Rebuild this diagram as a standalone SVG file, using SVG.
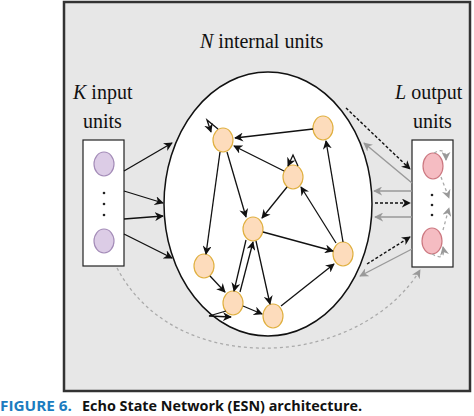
<svg xmlns="http://www.w3.org/2000/svg" width="474" height="416" viewBox="0 0 474 416">
<style>
.lbl{font-family:"Liberation Serif","Times New Roman",serif;font-size:20px;fill:#111}
.it{font-style:italic}
.cap{font-family:"Open Sans","Liberation Sans",Arial,sans-serif;font-weight:bold;font-size:14.5px}
.e{fill:none;stroke:#111;stroke-width:1.3;marker-end:url(#ab)}
.ed{fill:none;stroke:#111;stroke-width:1.4;stroke-dasharray:3,2;marker-end:url(#ab)}
.g{fill:none;stroke:#999;stroke-width:1.4;marker-end:url(#ag)}
.gd{fill:none;stroke:#aaa;stroke-width:1.3;stroke-dasharray:3,3;marker-end:url(#ag)}
.int{fill:#fddcbc;stroke:#e0b040;stroke-width:1.2}
.inp{fill:#dccce6;stroke:#a48cb8;stroke-width:1.2}
.out{fill:#f5bcc2;stroke:#cc7880;stroke-width:1.2}
.box{fill:#fff;stroke:#222;stroke-width:1.2}
.dot{fill:#222}
</style>
<defs>
<marker id="ab" viewBox="0 0 10 10" refX="9" refY="5" markerWidth="9" markerHeight="9" markerUnits="userSpaceOnUse" orient="auto"><path d="M0,0 L10,5 L0,10 L3,5 Z" fill="#111"/></marker>
<marker id="ag" viewBox="0 0 10 10" refX="9" refY="5" markerWidth="9" markerHeight="9" markerUnits="userSpaceOnUse" orient="auto"><path d="M0,0 L10,5 L0,10 L3,5 Z" fill="#999"/></marker>
</defs>
<rect width="474" height="416" fill="#fff"/>
<rect x="64" y="2" width="406" height="389" fill="#e7e7e7" stroke="#333" stroke-width="2.5"/>
<text class="lbl" x="200" y="48"><tspan class="it">N</tspan> internal units</text>
<text class="lbl" x="73" y="99"><tspan class="it">K</tspan> input</text>
<text class="lbl" x="83" y="128">units</text>
<text class="lbl" x="395" y="99"><tspan class="it">L</tspan> output</text>
<text class="lbl" x="413" y="128">units</text>
<g id="reservoir"><ellipse cx="268" cy="204" rx="104" ry="132" fill="#fff" stroke="#111" stroke-width="1.5"/></g>
<g id="input">
<rect class="box" x="83" y="140" width="41" height="126"/>
<ellipse class="inp" cx="104" cy="164" rx="10" ry="12"/>
<ellipse class="inp" cx="104" cy="241" rx="10" ry="12"/>
<circle class="dot" cx="104" cy="193" r="1.3"/><circle class="dot" cx="104" cy="204" r="1.3"/><circle class="dot" cx="104" cy="215" r="1.3"/>
</g>
<g id="output">
<rect class="box" x="412" y="140" width="41" height="127"/>
<ellipse class="out" cx="433" cy="166" rx="10" ry="13"/>
<ellipse class="out" cx="432" cy="241" rx="10" ry="13"/>
<circle class="dot" cx="432" cy="195" r="1.3"/><circle class="dot" cx="432" cy="205" r="1.3"/><circle class="dot" cx="432" cy="215" r="1.3"/>
</g>
<g id="nodes">
<g id="nA"><ellipse class="int" cx="223" cy="140" rx="10" ry="12"/></g>
<g id="nB"><ellipse class="int" cx="323" cy="128" rx="10" ry="12"/></g>
<g id="nC"><ellipse class="int" cx="293" cy="177" rx="10" ry="12"/></g>
<g id="nD"><ellipse class="int" cx="253" cy="229" rx="10" ry="12"/></g>
<g id="nE"><ellipse class="int" cx="204" cy="266" rx="10" ry="12"/></g>
<g id="nF"><ellipse class="int" cx="233" cy="303" rx="10" ry="12"/></g>
<g id="nG"><ellipse class="int" cx="273" cy="316" rx="10" ry="12"/></g>
<g id="nH"><ellipse class="int" cx="343" cy="254" rx="10" ry="12"/></g>
</g>
<g id="connectors">
<path class="e" d="M313,129 L235,138"/>
<path class="e" d="M218,129 L207,120 L211,132"/>
<path class="e" d="M284,171 L234,146"/>
<path class="e" d="M298,166 L293,155 L288,166"/>
<path class="e" d="M227,152 L246,217"/>
<path class="e" d="M287,187 L262,218"/>
<path class="e" d="M220,152 L206,254"/>
<path class="e" d="M336,243 L301,187"/>
<path class="e" d="M343,242 L326,141"/>
<path class="e" d="M263,232 L333,251"/>
<path class="e" d="M256,241 L270,304"/>
<path class="e" d="M246,240 L234,291"/>
<path class="e" d="M240,292 L253,242"/>
<path class="e" d="M210,276 L225,292"/>
<path class="e" d="M243,306 L262,314"/>
<path class="e" d="M281,306 L334,264"/>
<path class="e" d="M226,311 L209,316 L231,317"/>
<path class="e" d="M124,171 L172,143"/>
<path class="e" d="M124,191 L163,203"/>
<path class="e" d="M124,219 L163,216"/>
<path class="e" d="M124,234 L172,258"/>
<path class="ed" d="M346,108 L410,169"/>
<path class="g" d="M412,183 L364,143"/>
<path class="g" d="M412,191 L374,191"/>
<path class="ed" d="M375,203 L410,203"/>
<path class="g" d="M412,217 L375,217"/>
<path class="ed" d="M367,264 L410,237"/>
<path class="g" d="M412,249 L360,276"/>
<path class="gd" d="M117,268 C150,330 215,350 272,348 C338,346 395,312 420,270"/>
<path class="gd" d="M434,153 Q446,146 446,160"/>
<path class="gd" d="M441,177 L449,198"/>
<path class="gd" d="M443,230 L449,208"/>
<path class="gd" d="M432,254 Q446,262 443,247"/>
</g>
<text class="cap" x="0" y="411" fill="#1b7cc0" textLength="72" lengthAdjust="spacingAndGlyphs">FIGURE 6.</text>
<text class="cap" x="82" y="411" fill="#111" textLength="280" lengthAdjust="spacingAndGlyphs">Echo State Network (ESN) architecture.</text>
</svg>
